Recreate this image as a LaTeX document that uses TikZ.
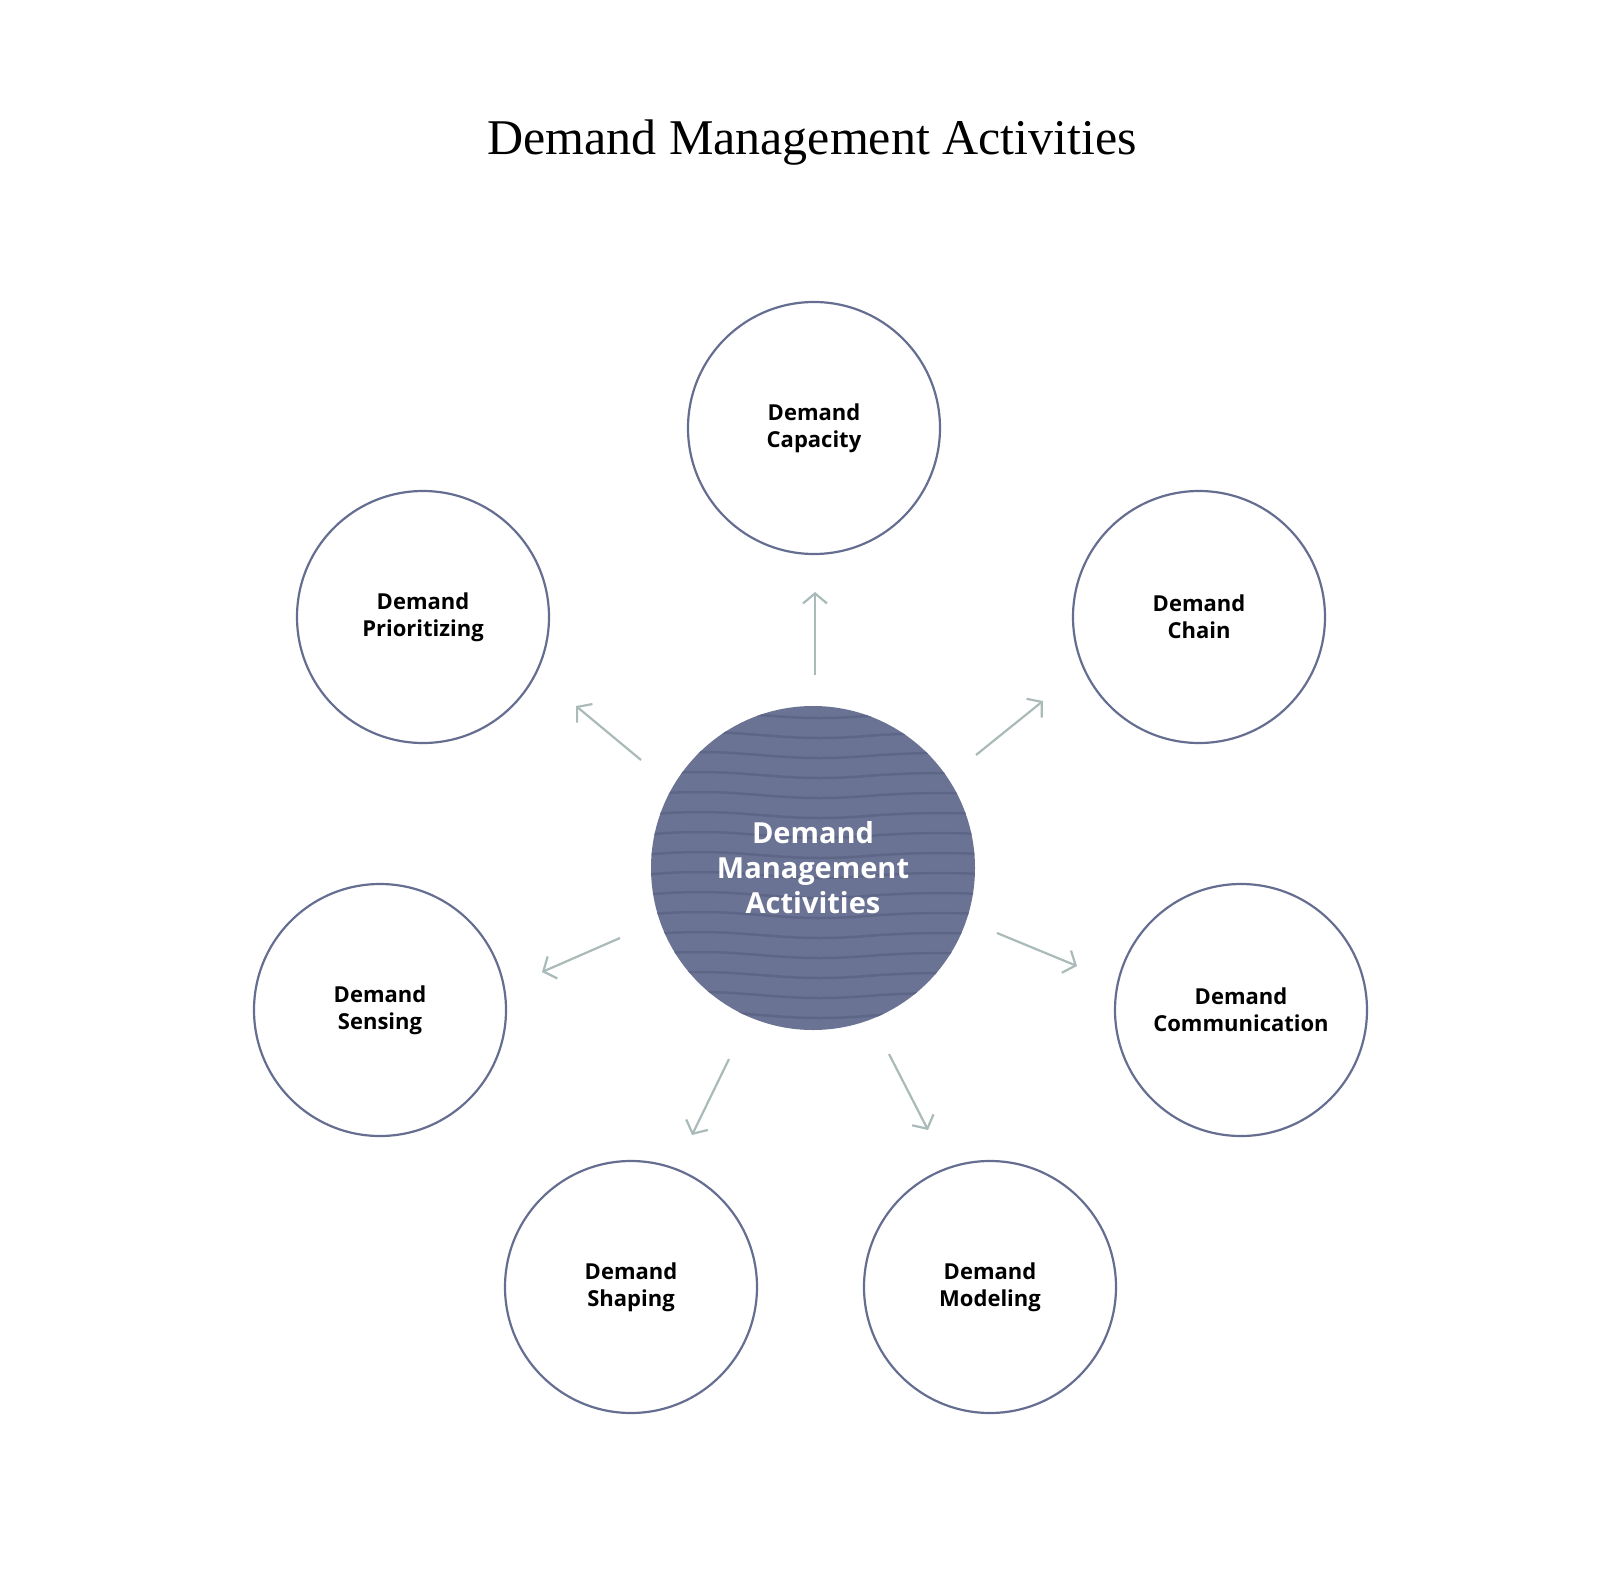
\documentclass[tikz,border=0pt]{standalone}
\usepackage{fontspec}
\setmainfont{Liberation Serif}
\newfontfamily\labelfont{Open Sans}
\usetikzlibrary{arrows.meta,positioning}
\definecolor{ringblue}{HTML}{656E90}
\definecolor{hubfill}{HTML}{6A7394}
\definecolor{hubwave}{HTML}{5E6688}
\definecolor{arrowgray}{HTML}{A9BAB9}

\tikzset{
  activity/.style={circle,draw=ringblue,line width=2.2pt,minimum size=252pt,inner sep=0pt,
    align=center,font=\labelfont\bfseries\fontsize{22}{27}\selectfont},
  hub/.style={circle,fill=hubfill,minimum size=324pt,inner sep=0pt,align=center,text=white,
    font=\labelfont\bfseries\fontsize{29}{35}\selectfont},
  spoke/.style={draw=arrowgray,line width=2.2pt,-{Straight Barb[length=10pt,width=24pt,line width=2.2pt]}}
}

\begin{document}
\begin{tikzpicture}[x=1pt,y=-1pt]
    \useasboundingbox (0,0) rectangle (1620,1584);
    \node[font=\fontsize{50}{60}\selectfont] (title) at (812,143) {Demand Management Activities};

    %%% hub with waves
    \node[hub] (hub) at (813,868) {};
    \begin{scope}
        \clip (813,868) circle (162pt);
        \foreach \y in {715,735,...,1035}
            \draw[hubwave,line width=2.5pt] (640,\y) sin (700,\y-3) cos (760,\y) sin (820,\y+3) cos (880,\y) sin (940,\y-2) cos (1000,\y);
    \end{scope}
    \node[hub,fill=none] (hubtext) at (813,868) {Demand\\Management\\Activities};

    %%% activities
    \node[activity] (capacity) at (814,428) {Demand\\Capacity};
    \node[activity] (prior) at (423,617) {Demand\\Prioritizing};
    \node[activity] (chain) at (1199,617) {Demand\\Chain};
    \node[activity] (sensing) at (380,1010) {Demand\\Sensing};
    \node[activity] (comm) at (1241,1010) {Demand\\Communication};
    \node[activity] (shaping) at (631,1287) {Demand\\Shaping};
    \node[activity] (modeling) at (990,1287) {Demand\\Modeling};

    %%% spokes
    \coordinate (c1s) at (815,675); \coordinate (c1e) at (815,592);
    \coordinate (p1s) at (641,760); \coordinate (p1e) at (576,706);
    \coordinate (h1s) at (976,755); \coordinate (h1e) at (1043,701);
    \coordinate (s1s) at (620,938); \coordinate (s1e) at (542,972);
    \coordinate (m1s) at (997,933); \coordinate (m1e) at (1077,966);
    \coordinate (g1s) at (729,1059); \coordinate (g1e) at (692,1135);
    \coordinate (d1s) at (889,1054); \coordinate (d1e) at (928,1130);
    \draw[spoke] (c1s) -- (c1e);
    \draw[spoke] (p1s) -- (p1e);
    \draw[spoke] (h1s) -- (h1e);
    \draw[spoke] (s1s) -- (s1e);
    \draw[spoke] (m1s) -- (m1e);
    \draw[spoke] (g1s) -- (g1e);
    \draw[spoke] (d1s) -- (d1e);
\end{tikzpicture}
\end{document}
